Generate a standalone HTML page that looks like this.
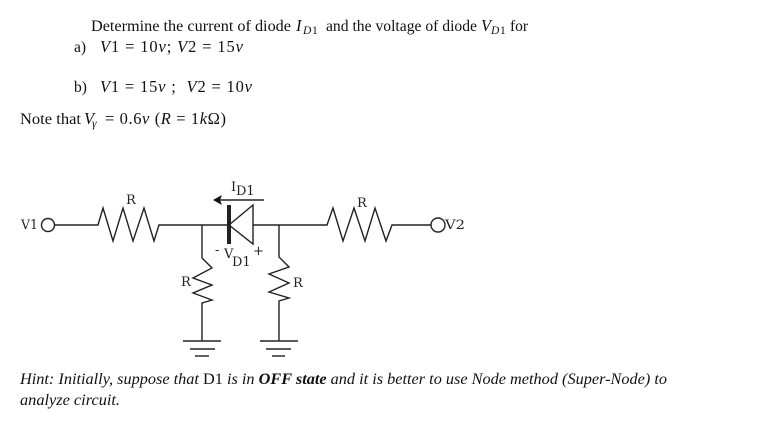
<!DOCTYPE html>
<html><head><meta charset="utf-8"><style>
html,body{margin:0;padding:0;background:#fff}
svg{display:block}
text{fill:#111;font-family:"Liberation Serif",serif;font-size:15.5px}
.m{font-style:italic}
.e{font-size:16.5px}
.c{font-family:"DejaVu Serif","Liberation Serif",serif;font-size:13px;fill:#222}
.s{font-size:11.5px}
path,line,circle{fill:none;stroke:#222;stroke-width:1.4}
</style></head><body>
<svg width="777" height="448" viewBox="0 0 777 448" xmlns="http://www.w3.org/2000/svg">
<text x="91" y="31" textLength="200" lengthAdjust="spacingAndGlyphs">Determine the current of diode</text>
<text x="296" y="31" class="m e">I</text><text x="303" y="34" class="m s">D</text><text x="312" y="34" class="s">1</text>
<text x="326" y="31" textLength="151" lengthAdjust="spacingAndGlyphs">and the voltage of diode</text>
<text x="481" y="31" class="m e">V</text><text x="491" y="34" class="m s">D</text><text x="500" y="34" class="s">1</text>
<text x="510" y="31" textLength="18">for</text>

<text x="74" y="52">a)</text>
<text x="100" y="52" class="e" textLength="143"><tspan class="m">V</tspan>1 = 10<tspan class="m">v</tspan>; <tspan class="m">V</tspan>2 = 15<tspan class="m">v</tspan></text>
<text x="74" y="92">b)</text>
<text x="100" y="92" class="e" textLength="152" xml:space="preserve"><tspan class="m">V</tspan>1 = 15<tspan class="m">v</tspan> ;  <tspan class="m">V</tspan>2 = 10<tspan class="m">v</tspan></text>
<text x="20" y="124" textLength="61" lengthAdjust="spacingAndGlyphs">Note that</text>
<text x="84" y="124" class="m e">V</text><text x="92" y="127" class="m s">γ</text>
<text x="105" y="124" class="e" textLength="121">= 0.6<tspan class="m">v</tspan> (<tspan class="m">R</tspan> = 1<tspan class="m">k</tspan>Ω)</text>

<!-- circuit -->
<circle cx="48" cy="225" r="6.5"/>
<path d="M55 225H98L103 208L113 241L123 208L133 241L144 208L154 241L159 225H228"/>
<path d="M202 225V258L212 268L193 278L212 285L193 293L212 300L202 303V341"/>
<line x1="183" y1="341" x2="221" y2="341"/><line x1="190" y1="349" x2="215" y2="349"/><line x1="195" y1="356" x2="209" y2="356"/>
<line x1="229" y1="205" x2="229" y2="244" style="stroke-width:4"/>
<path d="M229 225L253 205V244Z"/>
<path d="M253 225H327L333 208L343 241L354 208L365 241L375 208L386 241L392 225H431"/>
<circle cx="438" cy="225" r="7"/>
<path d="M279 225V257L289 267L269 274L289 283L269 292L289 298L279 301V341"/>
<line x1="260" y1="341" x2="298" y2="341"/><line x1="266" y1="349" x2="291" y2="349"/><line x1="272" y1="356" x2="285" y2="356"/>
<line x1="218" y1="200" x2="264" y2="200" style="stroke-width:1.6"/>
<polygon points="213,200 222,195 220,200 222,205" fill="#111"/>

<text x="21" y="229" class="c" textLength="17" lengthAdjust="spacingAndGlyphs">V1</text>
<text x="445" y="229" class="c" textLength="20" lengthAdjust="spacingAndGlyphs">V2</text>
<text x="126" y="204" class="c">R</text>
<text x="357" y="207" class="c">R</text>
<text x="181" y="286" class="c">R</text>
<text x="293" y="287" class="c">R</text>
<text x="231" y="191" class="c">I</text><text x="236" y="195" class="c">D1</text>
<text x="215" y="254" class="c">-</text>
<text x="224" y="258" class="c">V</text><text x="232" y="266" class="c">D1</text>
<text x="253" y="255" class="c">+</text>

<text x="20" y="384" class="m" textLength="647" lengthAdjust="spacingAndGlyphs" xml:space="preserve">Hint: Initially, suppose that <tspan style="font-style:normal">D1</tspan> is in <tspan font-weight="bold">OFF state</tspan> and it is better to use Node method (Super-Node) to</text>
<text x="20" y="405" class="m" textLength="100" lengthAdjust="spacingAndGlyphs">analyze circuit.</text>
</svg>
</body></html>
